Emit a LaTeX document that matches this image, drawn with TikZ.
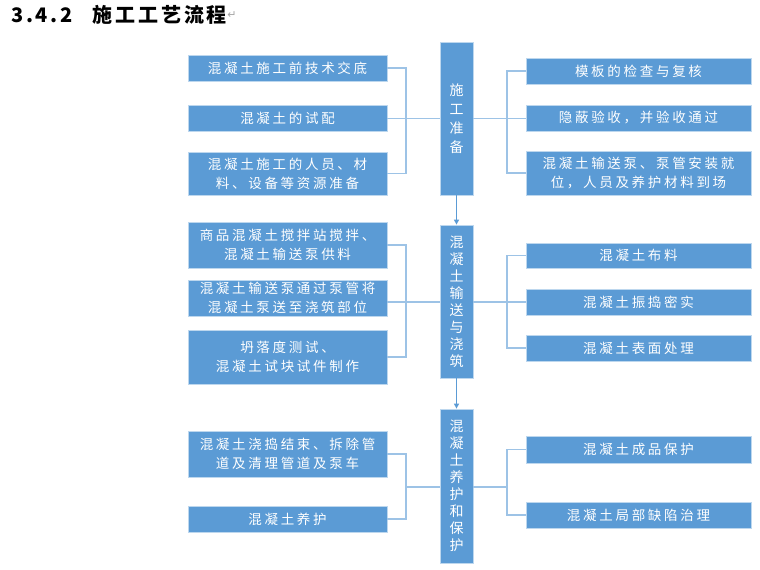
\documentclass[tikz,border=0pt]{standalone}
\usepackage{fontspec}
\setmainfont{Noto Sans CJK SC}
\newfontfamily\boxfont[LetterSpace=20]{Noto Sans CJK SC}
\newfontfamily\titlefont[LetterSpace=14]{Noto Sans CJK SC}
\newfontfamily\symfont{DejaVu Sans}
\usetikzlibrary{arrows.meta, positioning}

\definecolor{boxblue}{HTML}{5B9BD5}
\definecolor{boxedge}{HTML}{BDD7EE}
\definecolor{linkblue}{HTML}{9DC3E6}

\begin{document}
\begin{tikzpicture}[
    x=1pt, y=-1pt,
    side/.style={rectangle, draw=boxedge, line width=0.8pt, fill=boxblue, text=white, align=center, inner sep=0pt, font=\boxfont\fontsize{13.5}{19}\selectfont},
    lbox/.style={side, minimum width=199pt},
    rbox/.style={side, minimum width=225pt},
    mid/.style={side, minimum width=33pt, font=\boxfont\fontsize{14}{17}\selectfont},
    ln/.style={draw=linkblue, line width=1.8pt},
    a/.style={-{Triangle[length=5pt, width=5pt]}, draw=boxblue, line width=1.2pt},
]

% frame
\path[fill=white] (0,0) rectangle (760,570);
\useasboundingbox (0,0) rectangle (760,570);

% Title
\node[anchor=west, inner sep=0pt, font=\titlefont\bfseries\fontsize{20}{22}\selectfont] (title) at (11,15) {3.4.2\hspace{20pt}施工工艺流程};
\node[anchor=west, inner sep=0pt, text=gray!70, font=\symfont\fontsize{11}{12}\selectfont] (ret) at (title.east) {↵};

% Main steps
\node[mid, minimum height=153pt, font=\boxfont\fontsize{14}{19}\selectfont] (c1) at (456.5,118.5) {施\\工\\准\\备};
\node[mid, minimum height=153pt] (c2) at (456.5,301.5) {混\\凝\\土\\输\\送\\与\\浇\\筑};
\node[mid, minimum height=154pt] (c3) at (456.5,486) {混\\凝\\土\\养\\护\\和\\保\\护};

% Left tasks
\node[lbox, minimum height=26pt] (l1) at (287.5,68) {混凝土施工前技术交底};
\node[lbox, minimum height=26pt] (l2) at (287.5,118) {混凝土的试配};
\node[lbox, minimum height=43pt] (l3) at (287.5,173.5) {混凝土施工的人员、材\\料、设备等资源准备};
\node[lbox, minimum height=46pt] (l4) at (287.5,245) {商品混凝土搅拌站搅拌、\\混凝土输送泵供料};
\node[lbox, minimum height=36pt] (l5) at (287.5,298) {混凝土输送泵通过泵管将\\混凝土泵送至浇筑部位};
\node[lbox, minimum height=54pt] (l6) at (287.5,357) {坍落度测试、\\混凝土试块试件制作};
\node[lbox, minimum height=46pt] (l7) at (287.5,454) {混凝土浇捣结束、拆除管\\道及清理管道及泵车};
\node[lbox, minimum height=26pt] (l8) at (287.5,519) {混凝土养护};

% Right tasks
\node[rbox, minimum height=26pt] (r1) at (638.5,71) {模板的检查与复核};
\node[rbox, minimum height=26pt] (r2) at (638.5,118) {隐蔽验收，并验收通过};
\node[rbox, minimum height=44pt] (r3) at (638.5,173) {混凝土输送泵、泵管安装就\\位，人员及养护材料到场};
\node[rbox, minimum height=25pt] (r4) at (638.5,255.5) {混凝土布料};
\node[rbox, minimum height=26pt] (r5) at (638.5,302) {混凝土振捣密实};
\node[rbox, minimum height=26pt] (r6) at (638.5,348) {混凝土表面处理};
\node[rbox, minimum height=27pt] (r7) at (638.5,449.5) {混凝土成品保护};
\node[rbox, minimum height=26pt] (r8) at (638.5,515) {混凝土局部缺陷治理};

% Junctions
\coordinate (lj1) at (406,118.5);
\coordinate (lj2) at (406,302);
\coordinate (lj3) at (406,487);
\coordinate (rj1) at (507,118.5);
\coordinate (rj2) at (507,302);
\coordinate (rj3) at (507,487);

% Left brackets
\draw[ln] (l1.east) -| (lj1);
\draw[ln] (l3.east) -| (lj1);
\draw[ln] (l2.east |- lj1) -- (c1.west |- lj1);
\draw[ln] (l4.east) -| (lj2);
\draw[ln] (l6.east) -| (lj2);
\draw[ln] (l5.east |- lj2) -- (c2.west |- lj2);
\draw[ln] (l7.east) -| (lj3);
\draw[ln] (l8.east) -| (lj3);
\draw[ln] (lj3) -- (c3.west |- lj3);

% Right brackets
\draw[ln] (r1.west) -| (rj1);
\draw[ln] (r3.west) -| (rj1);
\draw[ln] (c1.east |- rj1) -- (r2.west |- rj1);
\draw[ln] (r4.west) -| (rj2);
\draw[ln] (r6.west) -| (rj2);
\draw[ln] (c2.east |- rj2) -- (r5.west |- rj2);
\draw[ln] (r7.west) -| (rj3);
\draw[ln] (r8.west) -| (rj3);
\draw[ln] (c3.east |- rj3) -- (rj3);

% Flow
\draw[a] (c1.south) -- (c2.north);
\draw[a] (c2.south) -- (c3.north);
\end{tikzpicture}
\end{document}
